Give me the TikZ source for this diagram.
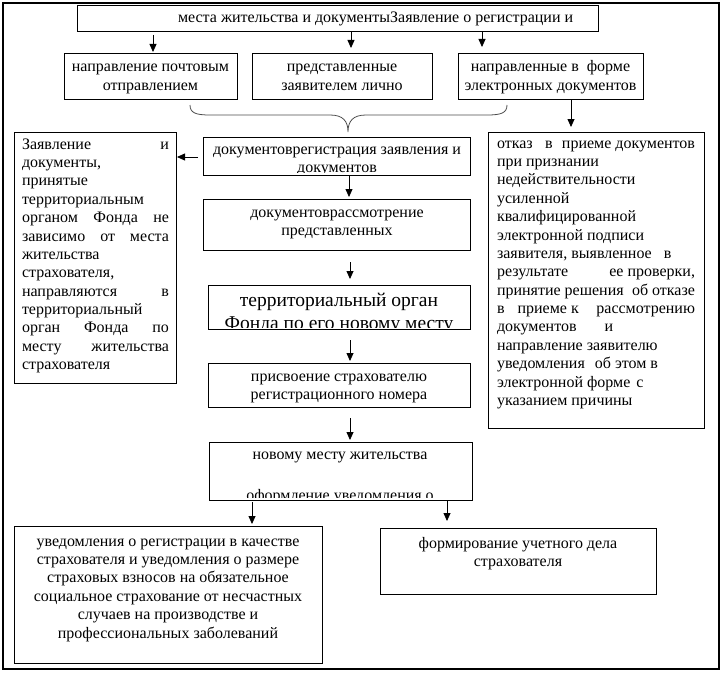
\documentclass[tikz,border=0pt]{standalone}
\usepackage{fontspec}
\setmainfont{Liberation Serif}
\usetikzlibrary{arrows.meta,calc}
\begin{document}
\begin{tikzpicture}[x=1pt,y=-1pt,
  box/.style={draw, line width=0.8pt, inner sep=0pt, outer sep=0pt, anchor=north west},
  arr/.style={line width=0.8pt, -{Triangle[length=8pt,width=7pt]}},
  txt/.style={inner sep=0pt, outer sep=0pt, anchor=base, font=\fontsize{16}{18.4}\selectfont},
  bigtxt/.style={inner sep=0pt, outer sep=0pt, anchor=base, font=\fontsize{19.5}{23.5}\selectfont},
]
\useasboundingbox (0,0) rectangle (723,677);
% outer frame
\node[box, line width=1.2pt, minimum width=716pt, minimum height=666pt] (frame) at (3,3) {};

% top box
\node[box, minimum width=521pt, minimum height=26pt] (top) at (77,5) {};
\node[txt, anchor=base west] (topt) at (178,23) {места жительства и документыЗаявление о регистрации и};

% second row
\node[box, minimum width=173pt, minimum height=46pt] (A) at (64,53) {};
\node[txt] (At) at (150.5,72) {\begin{tabular}[t]{@{}c@{}}направление почтовым\\отправлением\end{tabular}};
\node[box, minimum width=180pt, minimum height=46pt] (B) at (252,53) {};
\node[txt] (Bt) at (342,72) {\begin{tabular}[t]{@{}c@{}}представленные\\заявителем лично\end{tabular}};
\node[box, minimum width=185pt, minimum height=46pt] (C) at (458,53) {};
\node[txt] (Ct) at (550.5,72) {\begin{tabular}[t]{@{}c@{}}направленные в\ \ форме\\электронных документов\end{tabular}};

% brace
\draw[line width=0.8pt, black!70] (190,105) .. controls (190,113) and (196,115) .. (210,115) -- (330,115)
  .. controls (343,115) and (348,121) .. (348,132)
  .. controls (348,121) and (353,115) .. (366,115) -- (487,115)
  .. controls (501,115) and (507,113) .. (507,105);

% left box
\node[box, minimum width=162pt, minimum height=251pt] (L) at (14,132) {};
\node[txt, anchor=base west] (Lt) at (22,149) {\begin{tabular}[t]{@{}p{147pt}@{}}
Заявление\hfill и\\
документы,\\
принятые\\
территориальным\\
органом\hfill Фонда\hfill не\\
зависимо\hfill от\hfill места\\
жительства\\
страхователя,\\
направляются\hfill в\\
территориальный\\
орган\hfill Фонда\hfill по\\
месту\hfill жительства\\
страхователя
\end{tabular}};

% right box
\node[box, minimum width=216pt, minimum height=296pt] (R) at (488,132) {};
\node[txt, anchor=base west] (Rt) at (497,148) {\begin{tabular}[t]{@{}p{198pt}@{}}
отказ\hspace{0pt plus 1.6fill} в\hspace{0pt plus 1fill} приеме документов\\
при признании\\
недействительности\\
усиленной\\
квалифицированной\\
электронной подписи\\
заявителя, выявленное\hspace{12pt}в\\
результате\hspace{0pt plus 1fill} ее проверки,\\
принятие решения\hspace{0pt plus 1fill} об отказе\\
в\hspace{0pt plus 1fill} приеме к\hspace{0pt plus 1.5fill} рассмотрению\\
документов\hspace{28pt}и\\
направление заявителю\\
уведомления\hspace{10pt}об этом в\\
электронной форме\hspace{6pt}с\\
указанием причины
\end{tabular}};

% central column
\node[box, minimum width=267pt, minimum height=38pt] (b1) at (203,137) {};
\begin{scope}
\clip (b1.north west) rectangle ([yshift=2.5pt]b1.south east);
\node[txt] (b1t) at (337,154.5) {\begin{tabular}[t]{@{}c@{}}документоврегистрация заявления и\\документов\end{tabular}};
\end{scope}

\node[box, minimum width=267pt, minimum height=51pt] (b2) at (203,199) {};
\node[txt] (b2t) at (337,217) {\begin{tabular}[t]{@{}c@{}}документоврассмотрение\\представленных\end{tabular}};

\node[box, minimum width=262pt, minimum height=44pt] (b3) at (208,285) {};
\begin{scope}
\clip (b3.north west) rectangle ([yshift=2pt]b3.south east);
\node[bigtxt] (b3t) at (339,306) {\begin{tabular}[t]{@{}c@{}}территориальный орган\\Фонда по его новому месту\end{tabular}};
\end{scope}

\node[box, minimum width=262pt, minimum height=44pt] (b4) at (208,363) {};
\node[txt] (b4t) at (339,381) {\begin{tabular}[t]{@{}c@{}}присвоение страхователю\\регистрационного номера\end{tabular}};

\node[box, minimum width=263pt, minimum height=58pt] (b5) at (209,442) {};
\node[txt] (b5t) at (340,459) {новому месту жительства};
\begin{scope}
\clip (b5.north west) rectangle ([yshift=3pt]b5.south east);
\node[txt] (b5u) at (340,500) {оформление уведомления о};
\end{scope}

\node[box, minimum width=308pt, minimum height=137pt] (b6) at (14,526) {};
\node[txt] (b6t) at (168,546) {\begin{tabular}[t]{@{}c@{}}уведомления о регистрации в качестве\\страхователя и уведомления о размере\\страховых взносов на обязательное\\социальное страхование от несчастных\\случаев на производстве и\\профессиональных заболеваний\end{tabular}};

\node[box, minimum width=276pt, minimum height=66pt] (b7) at (380,528) {};
\node[txt] (b7t) at (518,548) {\begin{tabular}[t]{@{}c@{}}формирование учетного дела\\страхователя\end{tabular}};

% arrows
\draw[arr] ([yshift=-4pt]top.south -| 153,0) -- ([yshift=1pt]A.north -| 153,0);
\draw[arr] ([yshift=-1pt]top.south -| 351,0) -- ([yshift=5pt]B.north -| 351,0);
\draw[arr] ([yshift=-1pt]top.south -| 482,0) -- ([yshift=6pt]C.north -| 482,0);
\draw[arr] (C.south -| 571,0) -- ([yshift=5pt]R.north -| 571,0);
\draw[arr] ([xshift=-5pt]b1.west |- 0,157) -- ([xshift=1pt]L.east |- 0,157);
\draw[arr] (b1.south -| 349,0) -- ([yshift=2pt]b2.north -| 349,0);
\draw[arr] ([yshift=-12pt]b2.south -| 350,0) -- ([yshift=6pt]b3.north -| 350,0);
\draw[arr] ([yshift=-11pt]b3.south -| 350,0) -- ([yshift=2pt]b4.north -| 350,0);
\draw[arr] ([yshift=-11pt]b4.south -| 350,0) -- ([yshift=2pt]b5.north -| 350,0);
\draw[arr] ([yshift=-2pt]b5.south -| 252,0) -- ([yshift=2pt]b6.north -| 252,0);
\draw[arr] (b5.south -| 447,0) -- ([yshift=7pt]b7.north -| 447,0);
\end{tikzpicture}
\end{document}
